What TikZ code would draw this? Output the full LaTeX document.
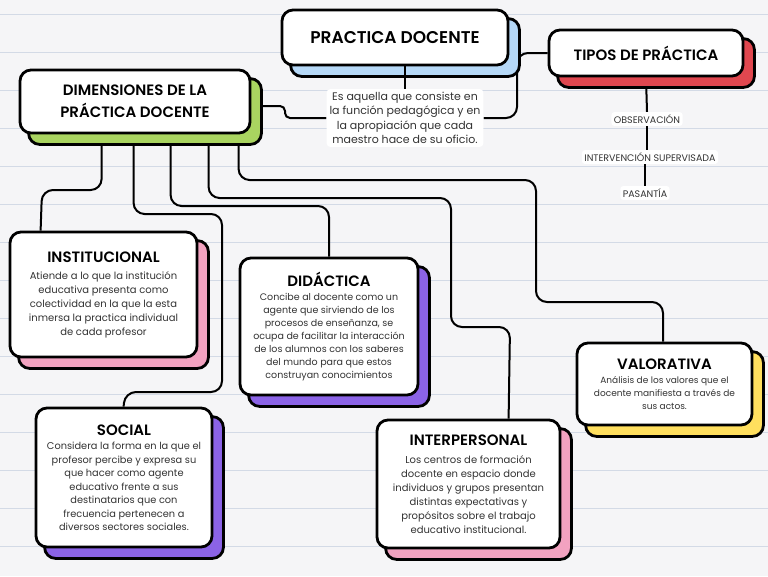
\documentclass[tikz,border=0pt]{standalone}
\usepackage{fontspec}
\setmainfont{Poppins}
\newfontfamily\titlef{Poppins SemiBold}
\usetikzlibrary{backgrounds}
\definecolor{bgc}{HTML}{F5F5F7}
\definecolor{rule}{HTML}{D3DAE6}
\definecolor{cblue}{HTML}{B5D8F7}
\definecolor{cred}{HTML}{E0474F}
\definecolor{cgreen}{HTML}{A9D460}
\definecolor{cpink}{HTML}{F2A2C0}
\definecolor{cpurple}{HTML}{8B63E6}
\definecolor{cyellow}{HTML}{FFDF5E}
\definecolor{txt}{HTML}{333333}
\newcommand{\ttlx}[1]{\textcolor{black}{\titlef\fontsize{15}{18}\selectfont #1}}
\tikzset{
 box/.style={draw=black,line width=2.8pt,fill=white,rounded corners=11pt,align=center,inner sep=4pt,text=txt},
 conn/.style={line width=2pt,rounded corners=11pt},
 chip/.style={fill=white,rounded corners=3pt,inner sep=2.5pt,font=\fontsize{9.5}{11}\selectfont,text=txt},
}
\newcommand{\shad}[2]{\draw[line width=2.8pt,fill=#2,rounded corners=11pt]([shift={(10,10)}]#1.south west) rectangle ([shift={(10,10)}]#1.north east);}
\begin{document}
\begin{tikzpicture}[x=1pt,y=-1pt]
\useasboundingbox (0,0) rectangle (768,576);

\node[box,minimum width=226,minimum height=55,text=black,font=\titlef\fontsize{17}{20}\selectfont] (pd) at (395,37.5) {PRACTICA DOCENTE};
\node[box,minimum width=194,minimum height=46,text=black,font=\titlef\fontsize{15}{18}\selectfont] (tp) at (646,53) {TIPOS DE PRÁCTICA};
\node[box,minimum width=230,minimum height=63,text=black,font=\titlef\fontsize{15}{22}\selectfont] (dim) at (135,101.5) {DIMENSIONES DE LA\\PRÁCTICA DOCENTE};
\node[fill=white,rounded corners=4pt,align=center,text=txt,font=\fontsize{11}{14.5}\selectfont,inner sep=3pt] (desc) at (405,118) {Es aquella que consiste en\\la función pedagógica y en\\la apropiación que cada\\maestro hace de su oficio.};
\node[chip] (obs) at (647,119) {OBSERVACIÓN};
\node[chip] (int) at (650,157) {INTERVENCIÓN SUPERVISADA};
\node[chip] (pas) at (645,193) {PASANTÍA};

\node[box,minimum width=187,minimum height=125,font=\fontsize{10}{14}\selectfont] (inst) at (103.5,294.5) {\ttlx{INSTITUCIONAL}\\[3pt]
 Atiende a lo que la institución\\educativa presenta como\\colectividad en la que la esta\\inmersa la practica individual\\de cada profesor};
\node[box,minimum width=178,minimum height=137,font=\fontsize{9.5}{13}\selectfont] (did) at (329,326.5) {\ttlx{DIDÁCTICA}\\[1pt]
 Concibe al docente como un\\agente que sirviendo de los\\procesos de enseñanza, se\\ocupa de facilitar la interacción\\de los alumnos con los saberes\\del mundo para que estos\\construyan conocimientos};
\node[box,minimum width=176,minimum height=139,font=\fontsize{9.8}{13.5}\selectfont] (soc) at (124,477.5) {\ttlx{SOCIAL}\\[1pt]
 Considera la forma en la que el\\profesor percibe y expresa su\\que hacer como agente\\educativo frente a sus\\destinatarios que con\\frecuencia pertenecen a\\diversos sectores sociales.};
\node[box,minimum width=183,minimum height=128,font=\fontsize{10}{14}\selectfont] (inter) at (468.5,484) {\ttlx{INTERPERSONAL}\\[4pt]
 Los centros de formación\\docente en espacio donde\\individuos y grupos presentan\\distintas expectativas y\\propósitos sobre el trabajo\\educativo institucional.};
\node[box,minimum width=175,minimum height=82,font=\fontsize{9}{13}\selectfont] (val) at (664.5,384) {\ttlx{VALORATIVA}\\[1pt]
 Análisis de los valores que el\\docente manifiesta a través de\\sus actos.};

\begin{pgfonlayer}{background}
\fill[bgc] (0,0) rectangle (768,576);
\foreach \y in {14,52,...,576} \draw[rule,line width=0.8pt] (0,\y) -- (768,\y);
\draw[conn,rounded corners=5pt] (dim.east |- 0,106) -- (285,106) |- (desc.west);
\draw[conn] (desc.east) -- (517,118) |- (tp.west);
\draw[conn] (tp.south) -- (obs.north);
\draw[conn] (obs.south) -- (int.north -| obs.south);
\draw[conn] (int.south -| pas.north) -- (pas.north);
\draw[conn] ([xshift=83]dim.south west) |- (42,190) -- ([xshift=32]inst.north west);
\draw[conn] ([xshift=115]dim.south west) |- (222,214) |- (125,392) -- ([xshift=89]soc.north west);
\draw[conn] ([xshift=152]dim.south west) |- (329,206) -- (did.north);
\draw[conn] ([xshift=190]dim.south west) |- (451,198) |- (510,327) -- ([xshift=133]inter.north west);
\draw[conn] ([xshift=220]dim.south west) |- (536,180) |- (663,302) -- (val.north -| 663,0);
\shad{pd}{cblue}
\shad{tp}{cred}
\shad{dim}{cgreen}
\shad{inst}{cpink}
\shad{did}{cpurple}
\shad{soc}{cpurple}
\shad{inter}{cpink}
\shad{val}{cyellow}
\draw[conn] (desc.north |- pd.south) -- (desc.north);
\end{pgfonlayer}
\end{tikzpicture}
\end{document}
